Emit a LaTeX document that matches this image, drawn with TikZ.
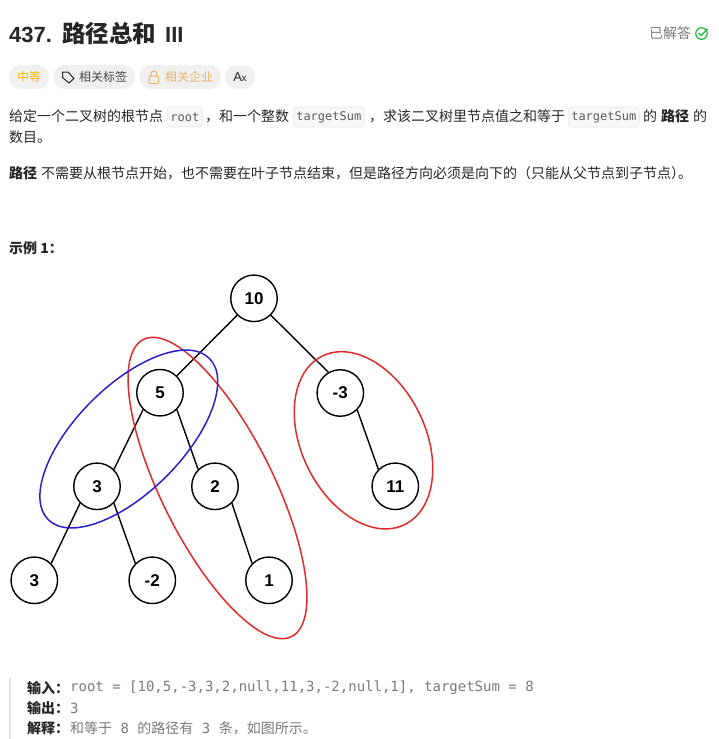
\documentclass[tikz,border=0pt]{standalone}
\usepackage{fontspec}
\setmainfont{Noto Sans CJK SC}
\setsansfont{Liberation Sans}
\setmonofont{DejaVu Sans Mono}
\definecolor{ink}{HTML}{262626}
\definecolor{midgray}{HTML}{5C5C5C}
\definecolor{softgray}{HTML}{7A7A7A}
\definecolor{pillfill}{HTML}{F0F0F0}
\definecolor{chipfill}{HTML}{F7F7F8}
\definecolor{chipline}{HTML}{E6E6E6}
\definecolor{barfill}{HTML}{E4E4E4}
\definecolor{medium}{HTML}{FFB800}
\definecolor{paleorange}{HTML}{E8B468}
\definecolor{okgreen}{HTML}{1CBA3C}
\definecolor{ringred}{HTML}{E02B2B}
\definecolor{ringblue}{HTML}{2A1FC8}
\tikzset{
  treenode/.style={shape=circle, draw=black, fill=white, line width=1.4pt, minimum size=46.5pt, inner sep=0pt, font=\sffamily\bfseries\fontsize{17}{17}\selectfont},
  treeedge/.style={-, line width=1.4pt, draw=black},
  ring/.style={line width=1.5pt, draw=#1},
  titletext/.style={anchor=base west, inner sep=0pt, text=ink},
  bodytext/.style={anchor=west, inner sep=0pt, text=ink, font=\fontsize{14}{14}\selectfont},
  boldtext/.style={bodytext, font=\bfseries\fontsize{14}{14}\selectfont},
  pill/.style={shape=rectangle, rounded corners=11.5pt, fill=pillfill, minimum height=24pt, inner sep=0pt, anchor=west},
  pilltext/.style={anchor=west, inner sep=0pt, font=\fontsize{12}{12}\selectfont},
  chip/.style={shape=rectangle, rounded corners=3pt, fill=chipfill, draw=chipline, line width=0.6pt, minimum height=20pt, inner sep=0pt, text=midgray, anchor=west, font=\ttfamily\fontsize{12}{12}\selectfont},
  outtext/.style={anchor=west, inner sep=0pt, text=softgray, font=\fontsize{14}{14}\selectfont},
  monotext/.style={outtext, font=\ttfamily\fontsize{14}{14}\selectfont},
}
\begin{document}
\begin{tikzpicture}[x=1pt, y=-1pt]
\useasboundingbox (0,0) rectangle (719,739);
% header
\node[titletext, font=\sffamily\bfseries\fontsize{22}{22}\selectfont] (number) at (9,42.5) {437.};
\node[titletext, font=\bfseries\fontsize{23.5}{24}\selectfont] (title) at (62,42.5) {路径总和};
\node[titletext, font=\sffamily\bfseries\fontsize{22}{22}\selectfont] (roman) at (165,42.5) {III};
\node[anchor=west, inner sep=0pt, text=softgray, font=\fontsize{14}{14}\selectfont] (solved) at (649,33) {已解答};
\node[shape=circle, draw=okgreen, line width=1.2pt, minimum size=11.5pt, inner sep=0pt] (okmark) at (701.5,33.5) {};
\draw[okgreen, line width=1.2pt] (698.5,33) -- (701,35.5) -- (707.5,29);
% pills
\node[pill, minimum width=40pt] (pilla) at (9,77) {};
\node[pill, minimum width=82pt] (pillb) at (53,77) {};
\node[pill, minimum width=82pt] (pillc) at (139,77) {};
\node[pill, minimum width=30pt] (pilld) at (225,77) {};
\node[pilltext, text=medium] (levelname) at (17,77) {中等};
\node[pilltext, text=ink!85] (tagname) at (79,77) {相关标签};
\node[pilltext, text=paleorange] (firmname) at (165,77) {相关企业};
\node[anchor=center, inner sep=0pt, text=ink, font=\sffamily\fontsize{13}{13}\selectfont] (lang) at (240,77) {A\kern-0.5pt{\fontsize{10}{10}\selectfont x}};
\draw[ink, line width=1pt, line join=round] (62.5,72) -- (68,72) -- (74,78.5) -- (69,83) -- (62.5,77.5) -- cycle;
\draw[paleorange, line width=1pt, rounded corners=1pt] (149,76) rectangle (158.5,83.5);
\draw[paleorange, line width=1pt] (150.8,76) -- (150.8,74) arc[start angle=180, end angle=360, radius=3] -- (156.8,76);
% text lines
\node[bodytext] (lineA) at (9,116) {给定一个二叉树的根节点};
\node[chip, minimum width=35pt] (chipA) at (167,117) {root};
\node[bodytext] (lineB) at (205,116) {，和一个整数};
\node[chip, minimum width=71pt] (chipB) at (293,117) {targetSum};
\node[bodytext] (lineC) at (369,116) {，求该二叉树里节点值之和等于};
\node[chip, minimum width=71pt] (chipC) at (568,117) {targetSum};
\node[bodytext] (lineD) at (643,116) {的};
\node[boldtext] (lineE) at (661,116) {路径};
\node[bodytext] (lineF) at (693,116) {的};
\node[bodytext] (lineG) at (9,137) {数目。};
\node[boldtext] (lineH) at (9,173) {路径};
\node[bodytext] (lineI) at (41,173) {不需要从根节点开始，也不需要在叶子节点结束，但是路径方向必须是向下的（只能从父节点到子节点）\kern-7pt。};
\node[boldtext] (example) at (9,248) {示例 1：};
% tree
\node[treenode] (10) at (254,298.3) {10};
\node[treenode] (5) at (160,392.7) {5};
\node[treenode] (m3) at (340.3,393) {-3};
\node[treenode] (3) at (97,486.3) {3};
\node[treenode] (2) at (215,486.3) {2};
\node[treenode] (11) at (395.3,486.3) {11};
\node[treenode] (3b) at (34.3,580.3) {3};
\node[treenode] (m2) at (152.3,580.3) {-2};
\node[treenode] (1) at (269,580.3) {1};
\path [treeedge] (10.-135) edge (5.45);
\path [treeedge] (10.-45) edge (m3.120);
\path [treeedge] (5.-135) edge (3.45);
\path [treeedge] (5.-45) edge (2.135);
\path [treeedge] (m3.-45) edge (11.135);
\path [treeedge] (3.-135) edge (3b.45);
\path [treeedge] (3.-45) edge (m2.135);
\path [treeedge] (2.-45) edge (1.135);
% rings
\draw[ring=ringred, rotate around={-63.5:(217.5,488)}] (217.5,488) ellipse [x radius=166, y radius=56];
\draw[ring=ringblue, rotate around={45:(128.8,439)}] (128.8,439) ellipse [x radius=114, y radius=53];
\draw[ring=ringred, rotate around={-64:(363.5,440.3)}] (363.5,440.3) ellipse [x radius=93.8, y radius=62];
% output block
\fill[barfill] (9,678) rectangle (11,739);
\node[boldtext] (inhead) at (27,688) {输入：};
\node[monotext] (intext) at (70,688) {root = [10,5,-3,3,2,null,11,3,-2,null,1], targetSum = 8};
\node[boldtext] (outhead) at (27,708) {输出：};
\node[monotext] (outval) at (70,708) {3};
\node[boldtext] (whyhead) at (27,728) {解释：};
\node[outtext] (whytext) at (70,728) {和等于{\ttfamily\ 8\ }的路径有{\ttfamily\ 3\ }条，如图所示。};
\end{tikzpicture}
\end{document}
